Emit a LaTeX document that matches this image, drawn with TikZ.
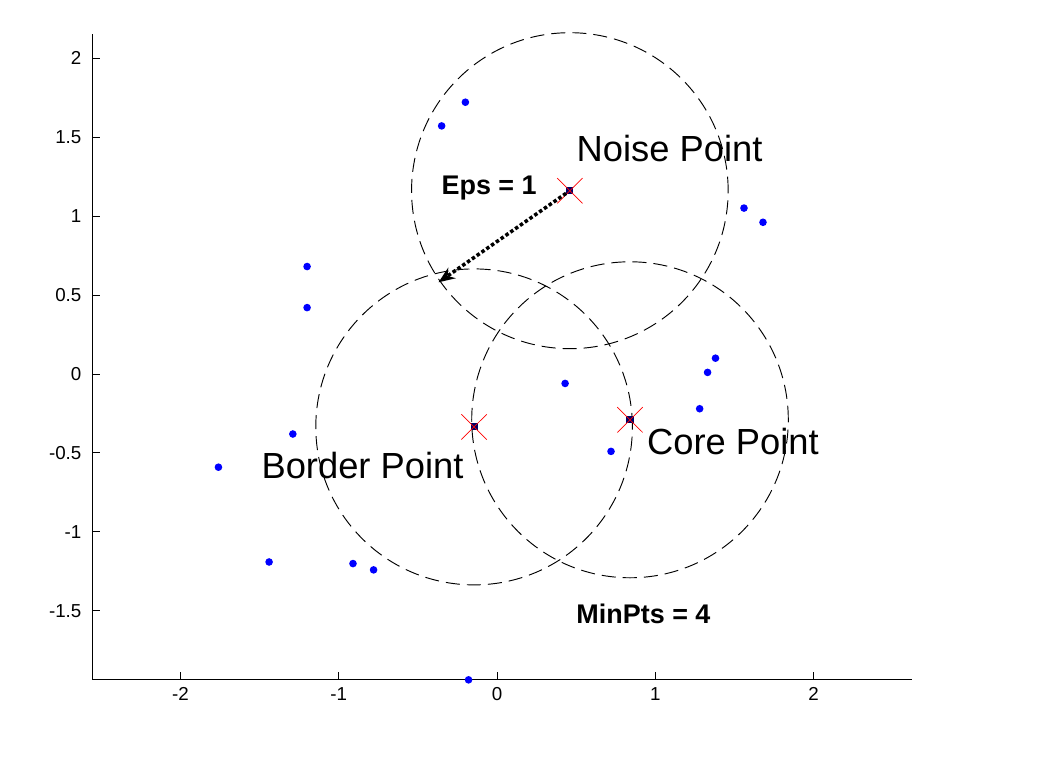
\documentclass[tikz,border=0pt]{standalone}
\usepackage{fontspec}
\setmainfont{Liberation Sans}
\usetikzlibrary{arrows.meta}
\begin{document}
\begin{tikzpicture}[x=4.749cm,y=4.74cm,
  pt/.style={circle,fill=blue,inner sep=0pt,minimum size=6.5pt},
  ctr/.style={fill=blue!40!black,inner sep=0pt,minimum size=6pt},
  epscirc/.style={draw,dash pattern=on 12pt off 6pt,line width=0.8pt},
  big/.style={font=\fontsize{31}{34}\selectfont},
  bold/.style={font=\fontsize{23}{26}\selectfont\bfseries},
  tick/.style={font=\fontsize{16}{18}\selectfont}]
\useasboundingbox (-3.14,-2.475) rectangle (3.449,2.367);
% axes
\draw[line width=0.8pt] (-2.558,2.15) -- (-2.558,-1.936) -- (2.62,-1.936);
\foreach \x in {-2,-1,0,1,2}{
  \draw[line width=0.8pt] (\x,-1.936) -- ++(0,0.05);
  \node[tick,anchor=north] at (\x,-1.96) {\x};}
\foreach \y/\l in {2/2,1.5/1.5,1/1,0.5/0.5,0/0,-0.5/-0.5,-1/-1,-1.5/-1.5}{
  \draw[line width=0.8pt] (-2.558,\y) -- ++(0.05,0);
  \node[tick,anchor=east] at (-2.6,\y) {\l};}
% circles
\draw[epscirc] (0.46,1.16) circle (1);
\draw[epscirc] (-0.145,-0.335) circle (1);
\draw[epscirc] (0.84,-0.29) circle (1);
% centers
\foreach \n/\p in {nz/{(0.46,1.16)},bd/{(-0.145,-0.335)},cr/{(0.84,-0.29)}}{
  \node[ctr] (\n) at \p {};
  \draw[red,line width=0.6pt] (\n.center) ++(-0.08,-0.08) -- ++(0.16,0.16);
  \draw[red,line width=0.6pt] (\n.center) ++(-0.08,0.08) -- ++(0.16,-0.16);}
% points
\foreach \p in {(-0.2,1.72),(-0.35,1.57),(1.56,1.05),(1.68,0.96),(-1.2,0.68),(-1.2,0.42),
 (0.43,-0.06),(1.38,0.1),(1.33,0.01),(1.28,-0.22),(0.72,-0.49),(-1.29,-0.38),(-1.76,-0.59),
 (-1.44,-1.19),(-0.91,-1.2),(-0.78,-1.24),(-0.18,-1.936)}
 \node[pt] at \p {};
% arrow
\coordinate (ae) at (-0.37,0.58);
\draw[-{Stealth[length=14pt,width=11pt]},line width=3pt,dotted] (nz) -- (ae);
% labels
\node[big] (l1) at (1.09,1.43) {Noise Point};
\node[bold] (l2) at (-0.05,1.18) {Eps = 1};
\node[big] (l3) at (-0.85,-0.58) {Border Point};
\node[big] (l4) at (1.49,-0.43) {Core Point};
\node[bold] (l5) at (0.925,-1.52) {MinPts = 4};
\end{tikzpicture}
\end{document}
